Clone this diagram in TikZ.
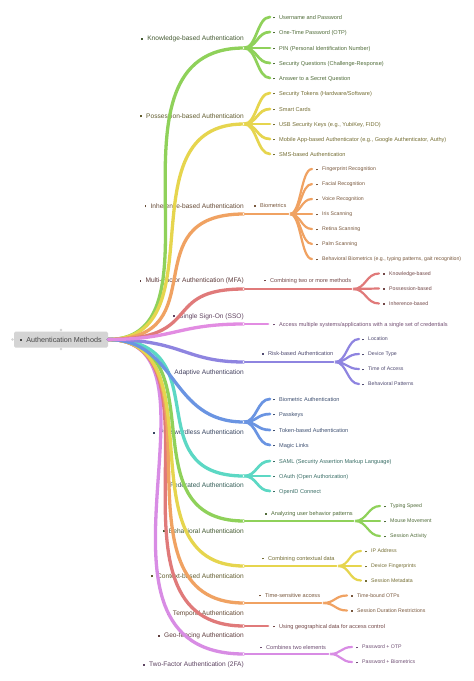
\documentclass[tikz,border=0pt]{standalone}
\usepackage{fontspec}
\setmainfont{Liberation Sans}
\definecolor{cGreen}{HTML}{8FD15A}
\definecolor{cYellow}{HTML}{E6D54E}
\definecolor{cOrange}{HTML}{F0A262}
\definecolor{cRed}{HTML}{E07A7A}
\definecolor{cPink}{HTML}{E28CE2}
\definecolor{cPurple}{HTML}{8E84E0}
\definecolor{cBlue}{HTML}{6A94E2}
\definecolor{cTeal}{HTML}{5CD8C4}
\definecolor{cViolet}{HTML}{D88CE4}
\definecolor{rootgray}{HTML}{D4D4D4}
\newcommand\mbul{\raisebox{\dimexpr0.26em-0.9pt\relax}{\rule{1.8pt}{1.8pt}}\hspace{4.2pt}}
\tikzset{
  lone/.style={line width=3.3pt, line cap=round, draw=#1},
  ltwo/.style={line width=2.7pt, line cap=round, draw=#1},
  lthree/.style={line width=2.2pt, line cap=round, draw=#1},
  jmark/.style={draw=white, line width=0.45pt, line cap=round},
  tone/.style={anchor=east, inner sep=0pt, text height=4.75pt, text depth=0pt,
    font=\fontsize{6.6}{7}\selectfont, text=#1!40!black!85!gray},
  ttwo/.style={anchor=west, inner sep=0pt, text height=4.0pt, text depth=0pt,
    font=\fontsize{5.6}{6}\selectfont, text=#1!50!black!85!gray},
  tthree/.style={anchor=west, inner sep=0pt, text height=3.75pt, text depth=0pt,
    font=\fontsize{5.2}{6}\selectfont, text=#1!50!black!85!gray},
  rootbox/.style={fill=rootgray, rounded corners=1.5pt, minimum width=94pt,
    minimum height=16pt, inner sep=0pt, text height=5.2pt, text depth=0pt,
    font=\fontsize{7.2}{8}\selectfont, text=black!72},
}
\newcommand\fan[4]{\draw[#1] (#2) .. controls +(#4,0) and +(-#4,0) .. (#3);}
\newcommand\jm[1]{\draw[jmark] ([shift={(-1.3,-1.2)}]#1) -- (#1) -- ([shift={(-1.3,1.2)}]#1);}
\begin{document}
\begin{tikzpicture}[x=1pt,y=-1pt]
\useasboundingbox (0,0) rectangle (474,681);
\fill[white] (0,0) rectangle (474,681);

% ---------- root ----------
\node[rootbox] (root) at (61,339.5) {\mbul Authentication Methods};
\fill[rootgray] (61,330) circle (1.3pt) (61,349) circle (1.3pt) (12.5,339.5) circle (1.3pt);

% ---------- level-1 labels ----------
\node[tone=cGreen]  (lK) at (244,38.5) {\mbul Knowledge-based Authentication};
\node[tone=cYellow] (lP) at (244,115.7) {\mbul Possession-based Authentication};
\node[tone=cOrange] (lI) at (244,205.7) {\mbul Inherence-based Authentication};
\node[tone=cRed]    (lM) at (244,280) {\mbul Multi-Factor Authentication (MFA)};
\node[tone=cPink]   (lS) at (244,315.7) {\mbul Single Sign-On (SSO)};
\node[tone=cPurple] (lA) at (244,371.7) {\mbul Adaptive Authentication};
\node[tone=cBlue]   (lW) at (244,432.3) {\mbul Passwordless Authentication};
\node[tone=cTeal]   (lF) at (244,485.3) {\mbul Federated Authentication};
\node[tone=cGreen]  (lB) at (244,530.7) {\mbul Behavioral Authentication};
\node[tone=cYellow] (lC) at (244,575.7) {\mbul Context-based Authentication};
\node[tone=cOrange] (lT) at (244,613.3) {\mbul Temporal Authentication};
\node[tone=cRed]    (lG) at (244,635.3) {\mbul Geo-fencing Authentication};
\node[tone=cViolet] (lZ) at (244,664) {\mbul Two-Factor Authentication (2FA)};

% ---------- junctions ----------
\coordinate (jK) at (244,48);
\coordinate (jP) at (244,124);
\coordinate (jI) at (244,214);
\coordinate (jM) at (244,289);
\coordinate (jS) at (244,324);
\coordinate (jA) at (244,362);
\coordinate (jW) at (244,422);
\coordinate (jF) at (244,476);
\coordinate (jB) at (244,521);
\coordinate (jC) at (244,566);
\coordinate (jT) at (244,603);
\coordinate (jG) at (244,626);
\coordinate (jZ) at (244,654);

% ---------- level-1 curves ----------
\draw[lone=cGreen]  (root.east) .. controls +(124,0) and +(-153,0) .. (jK);
\draw[lone=cYellow] (root.east) .. controls +(112,0) and +(-123,0) .. (jP);
\draw[lone=cOrange] (root.east) .. controls +(110,0) and +(-114,0) .. (jI);
\draw[lone=cRed]    (root.east) .. controls +(98,0) and +(-85,0) .. (jM);
\draw[lone=cViolet] (root.east) .. controls +(130,0) and +(-181,0) .. (jZ);
\draw[lone=cRed]    (root.east) .. controls +(124,0) and +(-153,0) .. (jG);
\draw[lone=cOrange] (root.east) .. controls +(120,0) and +(-140,0) .. (jT);
\draw[lone=cYellow] (root.east) .. controls +(112,0) and +(-125,0) .. (jC);
\draw[lone=cGreen]  (root.east) .. controls +(112,0) and +(-120,0) .. (jB);
\draw[lone=cTeal]   (root.east) .. controls +(114,0) and +(-111,0) .. (jF);
\draw[lone=cBlue]   (root.east) .. controls +(70,0) and +(-75,0) .. (jW);
\draw[lone=cPurple] (root.east) .. controls +(75,0) and +(-60,0) .. (jA);
\draw[lone=cPink]   (root.east) .. controls +(67,0) and +(-67,0) .. (jS);

% ---------- Knowledge ----------
\coordinate (k1) at (270,17); \coordinate (k2) at (270,32); \coordinate (k3) at (270,48);
\coordinate (k4) at (270,63); \coordinate (k5) at (270,78);
\fan{ltwo=cGreen}{jK}{k1}{13} \fan{ltwo=cGreen}{jK}{k2}{13} \fan{ltwo=cGreen}{jK}{k3}{13}
\fan{ltwo=cGreen}{jK}{k4}{13} \fan{ltwo=cGreen}{jK}{k5}{13}
\node[ttwo=cGreen] (tk1) at (273,17) {\mbul Username and Password};
\node[ttwo=cGreen] (tk2) at (273,32) {\mbul One-Time Password (OTP)};
\node[ttwo=cGreen] (tk3) at (273,48) {\mbul PIN (Personal Identification Number)};
\node[ttwo=cGreen] (tk4) at (273,63) {\mbul Security Questions (Challenge-Response)};
\node[ttwo=cGreen] (tk5) at (273,78) {\mbul Answer to a Secret Question};

% ---------- Possession ----------
\coordinate (p1) at (270,93); \coordinate (p2) at (270,109); \coordinate (p3) at (270,124);
\coordinate (p4) at (270,139); \coordinate (p5) at (270,154);
\fan{ltwo=cYellow}{jP}{p1}{13} \fan{ltwo=cYellow}{jP}{p2}{13} \fan{ltwo=cYellow}{jP}{p3}{13}
\fan{ltwo=cYellow}{jP}{p4}{13} \fan{ltwo=cYellow}{jP}{p5}{13}
\node[ttwo=cYellow] (tp1) at (273,93) {\mbul Security Tokens (Hardware/Software)};
\node[ttwo=cYellow] (tp2) at (273,109) {\mbul Smart Cards};
\node[ttwo=cYellow] (tp3) at (273,124) {\mbul USB Security Keys (e.g., YubiKey, FIDO)};
\node[ttwo=cYellow] (tp4) at (273,139) {\mbul Mobile App-based Authenticator (e.g., Google Authenticator, Authy)};
\node[ttwo=cYellow] (tp5) at (273,154) {\mbul SMS-based Authentication};

% ---------- Inherence ----------
\coordinate (jIb) at (290,214);
\draw[ltwo=cOrange] (jI) -- (jIb);
\node[ttwo=cOrange] (tIb) at (254,205.7) {\mbul Biometrics};
\foreach \n/\y in {1/169,2/184,3/199,4/214,5/229,6/244,7/259} {\coordinate (i\n) at (312,\y);}
\fan{lthree=cOrange}{jIb}{i1}{11} \fan{lthree=cOrange}{jIb}{i2}{11} \fan{lthree=cOrange}{jIb}{i3}{11}
\fan{lthree=cOrange}{jIb}{i4}{11} \fan{lthree=cOrange}{jIb}{i5}{11} \fan{lthree=cOrange}{jIb}{i6}{11}
\fan{lthree=cOrange}{jIb}{i7}{11}
\node[tthree=cOrange] (ti1) at (316,169) {\mbul Fingerprint Recognition};
\node[tthree=cOrange] (ti2) at (316,184) {\mbul Facial Recognition};
\node[tthree=cOrange] (ti3) at (316,199) {\mbul Voice Recognition};
\node[tthree=cOrange] (ti4) at (316,214) {\mbul Iris Scanning};
\node[tthree=cOrange] (ti5) at (316,229) {\mbul Retina Scanning};
\node[tthree=cOrange] (ti6) at (316,244) {\mbul Palm Scanning};
\node[tthree=cOrange] (ti7) at (316,259) {\mbul Behavioral Biometrics (e.g., typing patterns, gait recognition)};

% ---------- MFA ----------
\coordinate (jMb) at (353,289);
\draw[ltwo=cRed] (jM) -- (jMb);
\node[ttwo=cRed] (tMb) at (264,280) {\mbul Combining two or more methods};
\coordinate (m1) at (379,273.5); \coordinate (m2) at (379,288.5); \coordinate (m3) at (379,303.5);
\fan{lthree=cRed}{jMb}{m1}{13} \fan{lthree=cRed}{jMb}{m2}{13} \fan{lthree=cRed}{jMb}{m3}{13}
\node[tthree=cRed] (tm1) at (383,273.5) {\mbul Knowledge-based};
\node[tthree=cRed] (tm2) at (383,288.5) {\mbul Possession-based};
\node[tthree=cRed] (tm3) at (383,303.5) {\mbul Inherence-based};

% ---------- SSO ----------
\coordinate (jSb) at (268,324);
\draw[ltwo=cPink] (jS) -- (jSb);
\node[ttwo=cPink] (tSb) at (273,324) {\mbul Access multiple systems/applications with a single set of credentials};

% ---------- Adaptive ----------
\coordinate (jAb) at (335,362);
\draw[ltwo=cPurple] (jA) -- (jAb);
\node[ttwo=cPurple] (tAb) at (262,353.5) {\mbul Risk-based Authentication};
\coordinate (a1) at (359,339); \coordinate (a2) at (359,354); \coordinate (a3) at (359,369); \coordinate (a4) at (359,384);
\fan{lthree=cPurple}{jAb}{a1}{12} \fan{lthree=cPurple}{jAb}{a2}{12}
\fan{lthree=cPurple}{jAb}{a3}{12} \fan{lthree=cPurple}{jAb}{a4}{12}
\node[tthree=cPurple] (ta1) at (362,339) {\mbul Location};
\node[tthree=cPurple] (ta2) at (362,354) {\mbul Device Type};
\node[tthree=cPurple] (ta3) at (362,369) {\mbul Time of Access};
\node[tthree=cPurple] (ta4) at (362,384) {\mbul Behavioral Patterns};

% ---------- Passwordless ----------
\coordinate (w1) at (270,399); \coordinate (w2) at (270,414); \coordinate (w3) at (270,430); \coordinate (w4) at (270,445);
\fan{ltwo=cBlue}{jW}{w1}{13} \fan{ltwo=cBlue}{jW}{w2}{13} \fan{ltwo=cBlue}{jW}{w3}{13} \fan{ltwo=cBlue}{jW}{w4}{13}
\node[ttwo=cBlue] (tw1) at (273,399) {\mbul Biometric Authentication};
\node[ttwo=cBlue] (tw2) at (273,414) {\mbul Passkeys};
\node[ttwo=cBlue] (tw3) at (273,430) {\mbul Token-based Authentication};
\node[ttwo=cBlue] (tw4) at (273,445) {\mbul Magic Links};

% ---------- Federated ----------
\coordinate (f1) at (270,461); \coordinate (f2) at (270,476); \coordinate (f3) at (270,491);
\fan{ltwo=cTeal}{jF}{f1}{13} \fan{ltwo=cTeal}{jF}{f2}{13} \fan{ltwo=cTeal}{jF}{f3}{13}
\node[ttwo=cTeal] (tf1) at (273,461) {\mbul SAML (Security Assertion Markup Language)};
\node[ttwo=cTeal] (tf2) at (273,476) {\mbul OAuth (Open Authorization)};
\node[ttwo=cTeal] (tf3) at (273,491) {\mbul OpenID Connect};

% ---------- Behavioral ----------
\coordinate (jBb) at (355,521);
\draw[ltwo=cGreen] (jB) -- (jBb);
\node[ttwo=cGreen] (tBb) at (265,513.5) {\mbul Analyzing user behavior patterns};
\coordinate (b1) at (380,506); \coordinate (b2) at (380,521); \coordinate (b3) at (380,536);
\fan{lthree=cGreen}{jBb}{b1}{12} \fan{lthree=cGreen}{jBb}{b2}{12} \fan{lthree=cGreen}{jBb}{b3}{12}
\node[tthree=cGreen] (tb1) at (384,506) {\mbul Typing Speed};
\node[tthree=cGreen] (tb2) at (384,521) {\mbul Mouse Movement};
\node[tthree=cGreen] (tb3) at (384,536) {\mbul Session Activity};

% ---------- Context ----------
\coordinate (jCb) at (338,566);
\draw[ltwo=cYellow] (jC) -- (jCb);
\node[ttwo=cYellow] (tCb) at (262,558) {\mbul Combining contextual data};
\coordinate (c1) at (361,551); \coordinate (c2) at (361,566); \coordinate (c3) at (361,580.5);
\fan{lthree=cYellow}{jCb}{c1}{12} \fan{lthree=cYellow}{jCb}{c2}{12} \fan{lthree=cYellow}{jCb}{c3}{12}
\node[tthree=cYellow] (tc1) at (365,551) {\mbul IP Address};
\node[tthree=cYellow] (tc2) at (365,566) {\mbul Device Fingerprints};
\node[tthree=cYellow] (tc3) at (365,580.5) {\mbul Session Metadata};

% ---------- Temporal ----------
\coordinate (jTb) at (323,603);
\draw[ltwo=cOrange] (jT) -- (jTb);
\node[ttwo=cOrange] (tTb) at (259,595) {\mbul Time-sensitive access};
\coordinate (t1) at (347,595.5); \coordinate (t2) at (347,610.5);
\fan{lthree=cOrange}{jTb}{t1}{12} \fan{lthree=cOrange}{jTb}{t2}{12}
\node[tthree=cOrange] (tt1) at (351,595.5) {\mbul Time-bound OTPs};
\node[tthree=cOrange] (tt2) at (351,610.5) {\mbul Session Duration Restrictions};

% ---------- Geo ----------
\coordinate (jGb) at (268,626);
\draw[ltwo=cRed] (jG) -- (jGb);
\node[ttwo=cRed] (tGb) at (273,626) {\mbul Using geographical data for access control};

% ---------- 2FA ----------
\coordinate (jZb) at (330,654);
\draw[ltwo=cViolet] (jZ) -- (jZb);
\node[ttwo=cViolet] (tZb) at (260,647) {\mbul Combines two elements};
\coordinate (z1) at (352,647); \coordinate (z2) at (352,662);
\fan{lthree=cViolet}{jZb}{z1}{11} \fan{lthree=cViolet}{jZb}{z2}{11}
\node[tthree=cViolet] (tz1) at (356,647) {\mbul Password + OTP};
\node[tthree=cViolet] (tz2) at (356,662) {\mbul Password + Biometrics};

% ---------- junction marks ----------
\foreach \j in {jK,jP,jI,jM,jS,jA,jW,jF,jB,jC,jT,jG,jZ,jIb,jMb,jAb,jBb,jCb,jTb,jZb} {\jm{\j}}
\end{tikzpicture}
\end{document}
